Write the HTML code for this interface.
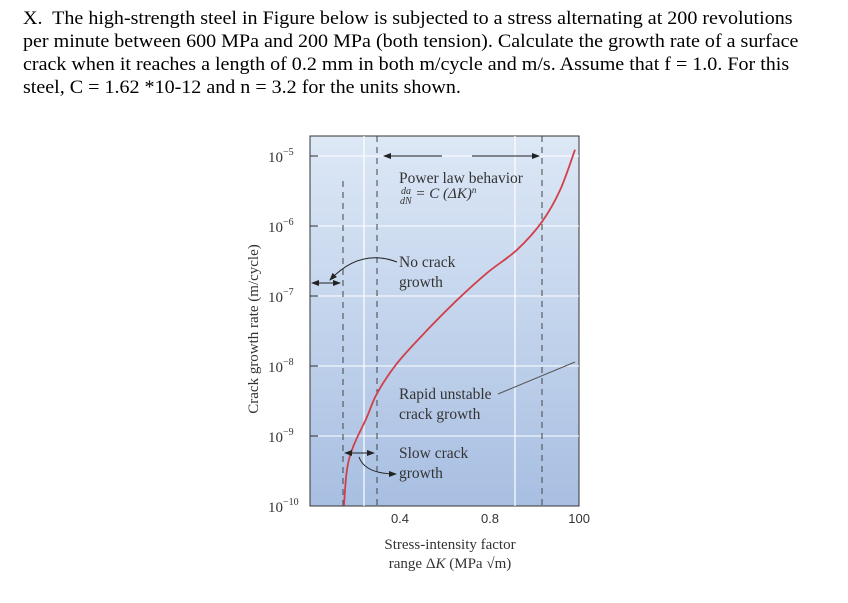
<!DOCTYPE html>
<html><head><meta charset="utf-8"><style>
body{margin:0;width:848px;height:603px;background:#fff;position:relative;overflow:hidden;font-family:"Liberation Serif",serif;}
.q{position:absolute;left:23px;font-size:19px;white-space:nowrap;color:#000;transform:scaleX(1.055);transform-origin:0 0;}
</style></head><body>
<div>
<div class="q" style="top:8px">X.&nbsp; The high-strength steel in Figure below is subjected to a stress alternating at 200 revolutions</div>
<div class="q" style="top:31px">per minute between 600 MPa and 200 MPa (both tension). Calculate the growth rate of a surface</div>
<div class="q" style="top:54px">crack when it reaches a length of 0.2 mm in both m/cycle and m/s. Assume that f = 1.0. For this</div>
<div class="q" style="top:77px">steel, C = 1.62 *10-12 and n = 3.2 for the units shown.</div>
</div>
<svg id="chart" width="848" height="603" style="position:absolute;left:0;top:0" font-family="Liberation Serif, serif">
<defs><linearGradient id="bg" x1="0" y1="0" x2="0" y2="1"><stop offset="0" stop-color="#dde8f6"/><stop offset="1" stop-color="#a8bfe2"/></linearGradient>
<marker id="ah" markerWidth="8" markerHeight="8" refX="7" refY="4" orient="auto"><path d="M0,1 L8,4 L0,7z" fill="#222"/></marker></defs>
<g id="g"></g>
</svg>
<script>
const xTickVals=[0.4,0.8,1.196];
const xTickLabels=["0.4","0.8","100"];
const yTickExp=[-5,-6,-7,-8,-9,-10];
const curveX=[0.151,0.164,0.191,0.253,0.298,0.387,0.52,0.653,0.787,0.92,1.031,1.111,1.178];
const curveLogY=[-9.99,-9.49,-9.16,-8.73,-8.39,-7.96,-7.49,-7.06,-6.67,-6.34,-5.94,-5.49,-4.91];
const X0=310,X1=579,YT=136,YB=506;
function sx(v){return 310+v*225;}
function sy(l){return 156+(-5-l)*70;}
const g=document.getElementById('g');const NS="http://www.w3.org/2000/svg";
function mk(t,a,txt){const e=document.createElementNS(NS,t);for(const k in a)e.setAttribute(k,a[k]);if(txt!==undefined)e.textContent=txt;g.appendChild(e);return e;}
let e=mk('rect',{x:X0,y:YT,width:X1-X0,height:YB-YT,fill:'url(#bg)',stroke:'#333','stroke-width':1});

[364,515].forEach(x=>{e=mk('line',{x1:x,y1:YT,x2:x,y2:YB,stroke:'#fff','stroke-width':1.2});});
yTickExp.forEach(p=>{const y=sy(p);
 if(p>-10){e=mk('line',{x1:X0,y1:y,x2:X1,y2:y,stroke:'#fff','stroke-width':1});
 mk('line',{x1:X0,y1:y,x2:X0+8,y2:y,stroke:'#333'});}
 e=mk('text',{x:268,y:y+6,'font-size':15,fill:'#333'});e.innerHTML='10<tspan dy="-7" font-size="10">−'+(-p)+'</tspan>';
 });
xTickVals.forEach((v,i)=>{e=mk('text',{x:sx(v),y:523,'font-size':13,'text-anchor':'middle',fill:'#333',"font-family":"Liberation Sans, sans-serif"},xTickLabels[i]);
 });
[[343,181],[377,136],[542,136]].forEach(([x,y0])=>{e=mk('line',{x1:x,y1:y0,x2:x,y2:YB,stroke:'#444','stroke-dasharray':'6,5','stroke-width':1});});
const P=curveX.map((v,i)=>[sx(v),sy(curveLogY[i])]);
let d='M'+P[0][0]+','+P[0][1];
for(let i=0;i<P.length-1;i++){const p0=P[Math.max(0,i-1)],p1=P[i],p2=P[i+1],p3=P[Math.min(P.length-1,i+2)];
 const c1=[p1[0]+(p2[0]-p0[0])/6,p1[1]+(p2[1]-p0[1])/6],c2=[p2[0]-(p3[0]-p1[0])/6,p2[1]-(p3[1]-p1[1])/6];
 d+=' C'+c1.map(n=>n.toFixed(1))+' '+c2.map(n=>n.toFixed(1))+' '+p2.map(n=>n.toFixed(1));}
e=mk('path',{d:d,fill:'none',stroke:'#d0404a','stroke-width':1.8,'stroke-linejoin':'round'});

const an=[
['line',{x1:442,y1:156,x2:384,y2:156,stroke:'#222','marker-end':'url(#ah)'}],
['line',{x1:472,y1:156,x2:539,y2:156,stroke:'#222','marker-end':'url(#ah)'}],
['line',{x1:326,y1:283,x2:312,y2:283,stroke:'#222','marker-end':'url(#ah)'}],
['line',{x1:326,y1:283,x2:340,y2:283,stroke:'#222','marker-end':'url(#ah)'}],
['path',{d:'M397,262 Q360,248 330,280',fill:'none',stroke:'#222','marker-end':'url(#ah)'}],
['line',{x1:360,y1:453,x2:345,y2:453,stroke:'#222','marker-end':'url(#ah)'}],
['line',{x1:360,y1:453,x2:374,y2:453,stroke:'#222','marker-end':'url(#ah)'}],
['path',{d:'M359,457 Q365,474 396,474',fill:'none',stroke:'#222','marker-end':'url(#ah)'}],
['line',{x1:498,y1:394,x2:575,y2:362,stroke:'#555'}]];
an.forEach(([t,a])=>{e=mk(t,a);});
const labels=[[399,183,'Power law behavior'],[399,267,'No crack'],[399,287,'growth'],[399,399,'Rapid unstable'],[399,419,'crack growth'],[399,458,'Slow crack'],[399,478,'growth']];
labels.forEach(([x,y,t])=>{e=mk('text',{x:x,y:y,'font-size':15.5,fill:'#333'},t);});
e=mk('text',{x:400,y:198,'font-size':15,fill:'#333','font-style':'italic'});
e.innerHTML='<tspan font-size="10" dy="-4">da</tspan><tspan font-size="10" dx="-11" dy="10">dN</tspan><tspan dy="-6"> = C (ΔK)</tspan><tspan font-size="9" dy="-5">n</tspan>';

e=mk('text',{x:450,y:549,'font-size':15,'text-anchor':'middle',fill:'#333'},'Stress-intensity factor');
e=mk('text',{x:450,y:568,'font-size':15,'text-anchor':'middle',fill:'#333'});e.innerHTML='range Δ<tspan font-style="italic">K</tspan> (MPa √m)';
e=mk('text',{x:0,y:0,'font-size':15,'text-anchor':'middle',fill:'#333',transform:'translate(258,329) rotate(-90)'},'Crack growth rate (m/cycle)');
</script>
</body></html>
